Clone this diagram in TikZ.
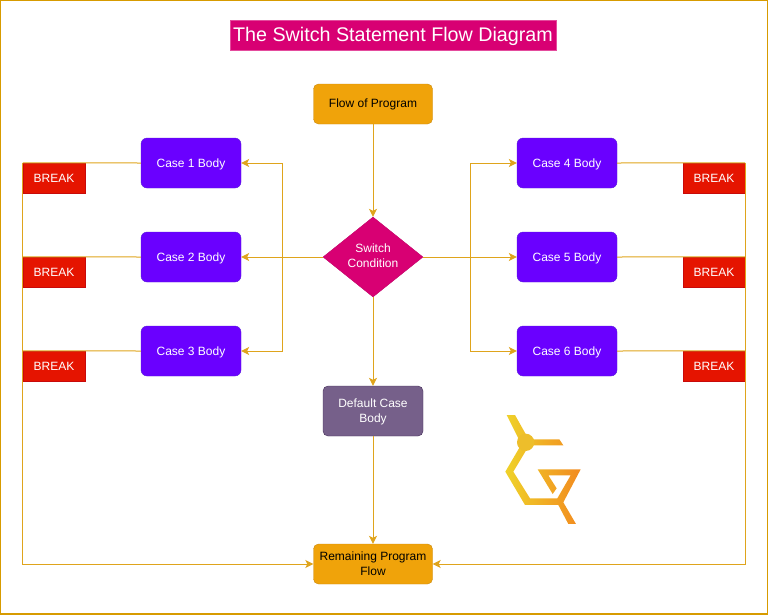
\documentclass[tikz,border=0pt]{standalone}
\usepackage{fontspec}
\setmainfont{Liberation Sans}
\usetikzlibrary{arrows.meta,shapes.geometric}
\definecolor{linegold}{HTML}{DFA41C}
\definecolor{frameline}{HTML}{D79B00}
\definecolor{orangefill}{HTML}{F0A30A}
\definecolor{orangeline}{HTML}{C98A10}
\definecolor{casefill}{HTML}{6A00FF}
\definecolor{caseline}{HTML}{5A20D8}
\definecolor{breakfill}{HTML}{E51400}
\definecolor{breakline}{HTML}{C80A0A}
\definecolor{switchfill}{HTML}{D80073}
\definecolor{switchline}{HTML}{C00066}
\definecolor{defaultfill}{HTML}{76608A}
\definecolor{defaultline}{HTML}{432D57}
\definecolor{logoleft}{HTML}{EFD22A}
\definecolor{logoright}{HTML}{F28A1F}
\definecolor{logodot}{HTML}{EDBE2B}
\tikzset{
  flowbox/.style={draw=orangeline, fill=orangefill, rounded corners=5pt, minimum width=119pt, minimum height=40pt, inner sep=0pt, align=center, font=\fontsize{12}{15}\selectfont},
  casebox/.style={draw=caseline, fill=casefill, text=white, text depth=0.5pt, rounded corners=6pt, minimum width=100pt, minimum height=50pt, inner sep=0pt, font=\fontsize{12}{15}\selectfont},
  breakbox/.style={draw=breakline, fill=breakfill, text=white, minimum width=62pt, minimum height=30pt, inner sep=0pt, font=\fontsize{12}{15}\selectfont},
  conn/.style={draw=linegold, line width=1pt},
  arrowconn/.style={conn, -{Stealth[length=8pt,width=8pt,inset=2pt]}}
}
\begin{document}
\begin{tikzpicture}[x=1pt, y=-1pt]
  \useasboundingbox (0,0) rectangle (768,614);
  \draw[frameline, line width=2pt] (0,0) rectangle (768,614);
  \node[draw=switchfill!70!white, fill=switchfill, text=white, text depth=2.2pt, minimum width=326pt, minimum height=30pt, inner sep=0pt, font=\fontsize{19.7}{24}\selectfont] (title) at (393,35) {The Switch Statement Flow Diagram};
  \node[flowbox] (flow) at (373,104) {Flow of Program};
  \node[diamond, aspect=1.25, draw=switchline, fill=switchfill, text=white, text depth=2pt, minimum width=100pt, minimum height=80pt, inner sep=0pt, align=center, font=\fontsize{12}{15}\selectfont] (sw) at (373,257) {Switch\\Condition};
  \node[flowbox, draw=defaultline, fill=defaultfill, text=white, text depth=0.5pt, minimum width=100pt, minimum height=50pt] (dflt) at (373,411) {Default Case\\Body};
  \node[flowbox] (rem) at (373,564) {Remaining Program\\Flow};
  \node[casebox] (c1) at (191,163) {Case 1 Body};
  \node[casebox] (c2) at (191,257) {Case 2 Body};
  \node[casebox] (c3) at (191,351) {Case 3 Body};
  \node[casebox] (c4) at (567,163) {Case 4 Body};
  \node[casebox] (c5) at (567,257) {Case 5 Body};
  \node[casebox] (c6) at (567,351) {Case 6 Body};
  \node[breakbox] (b1) at (54,178) {BREAK};
  \node[breakbox] (b2) at (54,272) {BREAK};
  \node[breakbox] (b3) at (54,366) {BREAK};
  \node[breakbox] (b4) at (714,178) {BREAK};
  \node[breakbox] (b5) at (714,272) {BREAK};
  \node[breakbox] (b6) at (714,366) {BREAK};
  \coordinate (jl) at (282,257);
  \coordinate (jr) at (470,257);
  \draw[arrowconn] (flow.south) -- (sw.north);
  \draw[arrowconn] (sw.south) -- (dflt.north);
  \draw[arrowconn] (dflt.south) -- (rem.north);
  \draw[arrowconn] (sw.west) -- (c2.east);
  \draw[arrowconn] (jl) |- (c1.east);
  \draw[arrowconn] (jl) |- (c3.east);
  \draw[arrowconn] (sw.east) -- (c5.west);
  \draw[arrowconn] (jr) |- (c4.west);
  \draw[arrowconn] (jr) |- (c6.west);
  \draw[conn] (c1.west) -- (b1.north west);
  \draw[conn] (c2.west) -- (b2.north west);
  \draw[conn] (c3.west) -- (b3.north west);
  \draw[conn] (c4.east) -- (b4.north east);
  \draw[conn] (c5.east) -- (b5.north east);
  \draw[conn] (c6.east) -- (b6.north east);
  \draw[arrowconn] (b1.north west) |- (rem.west);
  \draw[arrowconn] (b4.north east) |- (rem.east);
  \begin{scope}[shift={(480pt,-400pt)}, x=0.3333pt, y=-0.3333pt]
    \path[left color=logoleft, right color=logoright]
      (125,135) -- (150,125) -- (105,45) -- (80,45) -- cycle
      (140,136) -- (250,136) -- (238,118) -- (140,118) -- cycle
      (120,140) -- (76,215) -- (135,315) -- (235,315) -- (265,372) -- (288,372) -- (250,307) -- (302,208) -- (173,208) -- (218,282) -- (230,265) -- (205,226) -- (272,226) -- (232,295) -- (150,295) -- (100,215) -- (142,145) -- cycle;
    \fill[logodot] (137,127) circle [radius=26];
  \end{scope}
\end{tikzpicture}
\end{document}
